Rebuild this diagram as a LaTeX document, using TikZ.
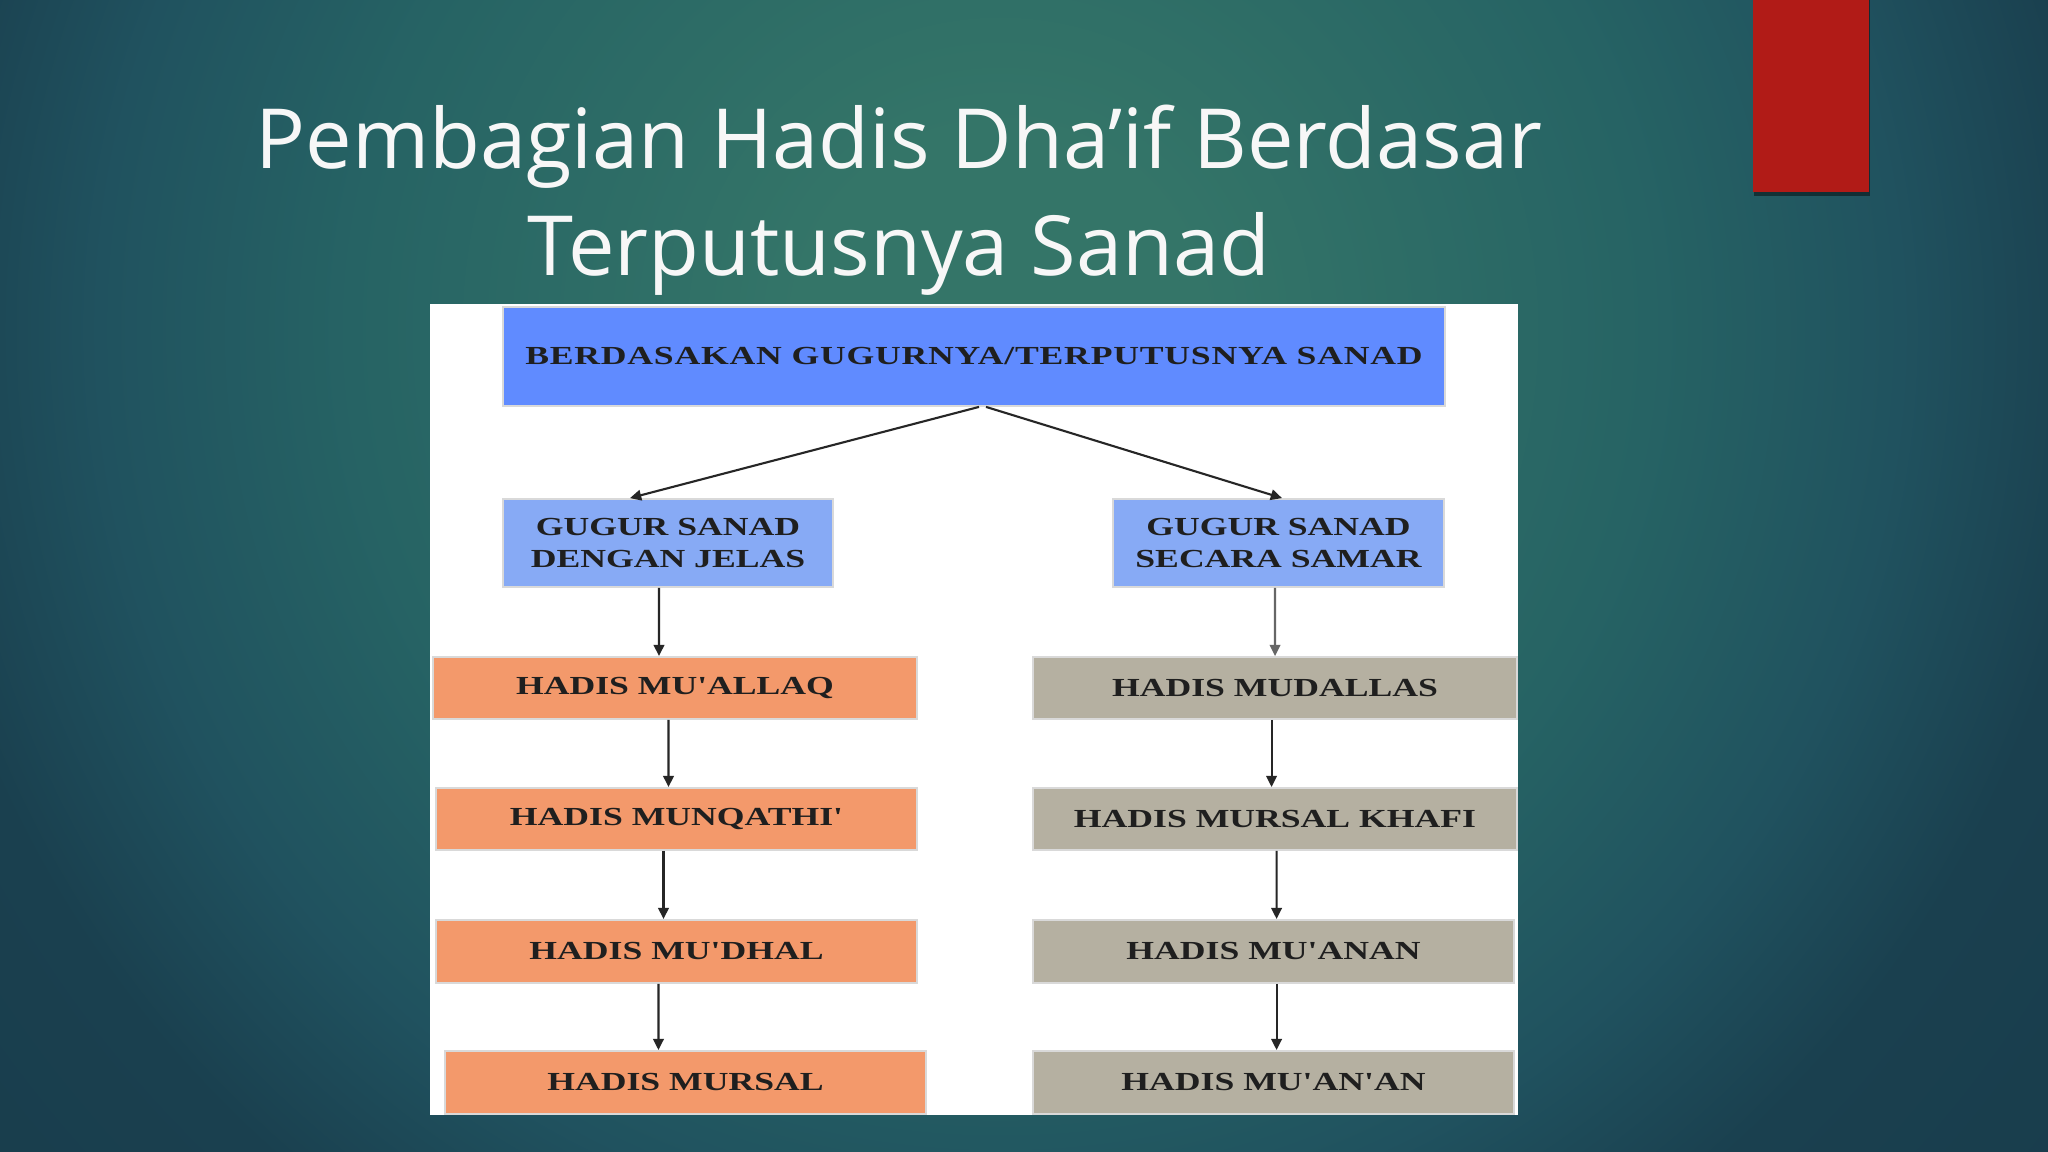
\documentclass[tikz,border=0pt]{standalone}
\usepackage{fontspec}
\setmainfont{Open Sans}
\newfontfamily\boxfont[FakeStretch=1.37]{Liberation Serif}
\usetikzlibrary{arrows.meta,calc}
\definecolor{bgc0}{RGB}{52,117,104}
\definecolor{bgc1}{RGB}{38,99,100}
\definecolor{bgc2}{RGB}{32,82,95}
\definecolor{bgc3}{RGB}{26,64,79}
\definecolor{bgc4}{RGB}{23,57,73}
\definecolor{topblue}{RGB}{96,139,255}
\definecolor{midblue}{RGB}{135,170,245}
\definecolor{orangebox}{RGB}{243,153,107}
\definecolor{greybox}{RGB}{181,176,161}
\definecolor{redbar}{RGB}{177,27,23}
\pgfdeclareradialshading{slidebg}{\pgfpoint{0cm}{0cm}}{%
  color(0cm)=(bgc0); color(2cm)=(bgc0); color(6.5cm)=(bgc1); color(9cm)=(bgc2);
  color(11cm)=(bgc3); color(17cm)=(bgc4)}
\tikzset{
  boxbase/.style={rectangle, inner sep=0pt, align=center, text=black!88,
    draw=white!70!gray, line width=0.5pt,
    font={\boxfont\bfseries\fontsize{7.4}{9.1}\selectfont}},
  topbox/.style={boxbase, fill=topblue, minimum width=9.42cm, minimum height=0.99cm},
  midbox/.style={boxbase, fill=midblue, minimum width=3.30cm, minimum height=0.88cm},
  orbox/.style={boxbase, fill=orangebox, minimum height=0.62cm},
  grbox/.style={boxbase, fill=greybox, minimum height=0.62cm},
  arr/.style={-{Triangle[length=3.2pt,width=3pt]}, line width=0.6pt, draw=black!85},
  titletext/.style={text=white!94!gray, inner sep=0pt, anchor=base,
    font={\fontsize{23.6}{30}\selectfont}}
}
\begin{document}
\begin{tikzpicture}[x=0.01cm,y=-0.01cm]
  % background
  \useasboundingbox (0,0) rectangle (2048,1152);
  \fill[bgc4] (0,0) rectangle (2048,1152);
  \begin{scope}
    \clip (0,0) rectangle (2048,1152);
    \node[inner sep=0pt, outer sep=0pt] (bg) at (1000,330) {\pgfuseshading{slidebg}};
  \end{scope}
  % red bar with shadow
  \fill[black, opacity=0.45] (1754,0) rectangle (1870,196);
  \fill[redbar] (1753,0) rectangle (1869,192);
  % title
  \node[titletext] (t1) at (899,169) {Pembagian Hadis Dha’if Berdasar};
  \node[titletext] (t2) at (899,276) {Terputusnya Sanad};
  % white panel
  \fill[white] (430,304) rectangle (1518,1115);
  % boxes
  \node[topbox] (top) at (974,356.5) {\addfontfeature{LetterSpace=3}BERDASAKAN GUGURNYA/TERPUTUSNYA SANAD};
  \node[midbox] (l2a) at (668,543) {GUGUR SANAD\\DENGAN JELAS};
  \node[midbox, minimum width=3.31cm] (l2b) at (1278.5,543) {GUGUR SANAD\\SECARA SAMAR};
  \node[orbox, minimum width=4.84cm] (m1) at (675,688) {HADIS MU'ALLAQ};
  \node[orbox, minimum width=4.81cm] (m2) at (676.5,819) {HADIS MUNQATHI'};
  \node[orbox, minimum width=4.81cm, minimum height=0.63cm] (m3) at (676.5,951.5) {HADIS MU'DHAL};
  \node[orbox, minimum width=4.81cm, minimum height=0.63cm] (m4) at (685.5,1082.5) {HADIS MURSAL};
  \node[grbox, minimum width=4.84cm] (r1) at (1275,688) {HADIS MUDALLAS};
  \node[grbox, minimum width=4.84cm] (r2) at (1275,819) {HADIS MURSAL KHAFI};
  \node[grbox, minimum width=4.81cm, minimum height=0.63cm] (r3) at (1273.5,951.5) {HADIS MU'ANAN};
  \node[grbox, minimum width=4.81cm, minimum height=0.63cm] (r4) at (1273.5,1082.5) {HADIS MU'AN'AN};
  % connectors
  \draw[arr] ([xshift=0.05cm]top.south) -- ([xshift=-0.38cm]l2a.north);
  \draw[arr] ([xshift=0.12cm]top.south) -- ([xshift=0.035cm]l2b.north);
  \draw[arr] ([xshift=-0.09cm]l2a.south) -- ([xshift=-0.16cm]m1.north);
  \draw[arr] ([xshift=-0.065cm]m1.south) -- ([xshift=-0.08cm]m2.north);
  \draw[arr] ([xshift=-0.13cm]m2.south) -- ([xshift=-0.13cm]m3.north);
  \draw[arr] ([xshift=-0.18cm]m3.south) -- ([xshift=-0.27cm]m4.north);
  \draw[arr, draw=black!60] ([xshift=-0.035cm]l2b.south) -- (r1.north);
  \draw[arr] ([xshift=-0.034cm]r1.south) -- ([xshift=-0.034cm]r2.north);
  \draw[arr] ([xshift=0.016cm]r2.south) -- ([xshift=0.031cm]r3.north);
  \draw[arr] ([xshift=0.031cm]r3.south) -- ([xshift=0.031cm]r4.north);
\end{tikzpicture}
\end{document}
